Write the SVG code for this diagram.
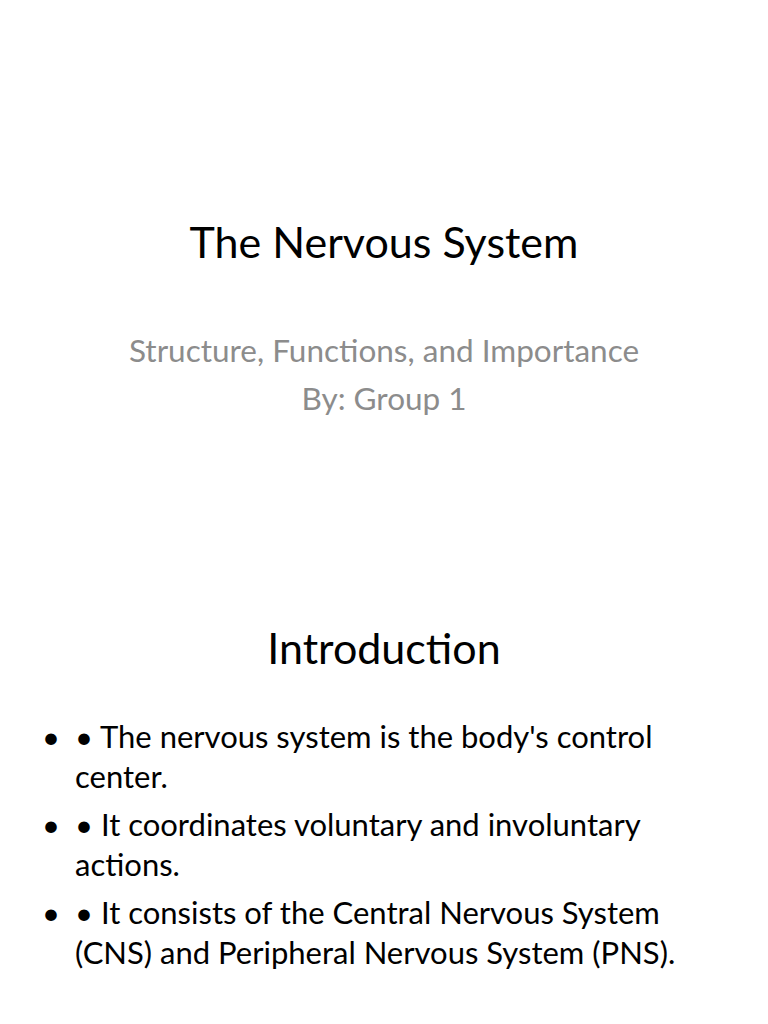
<svg xmlns="http://www.w3.org/2000/svg" width="768" height="1024" viewBox="0 0 768 1024">
<style>
text{font-family:Lato,"Open Sans","DejaVu Sans",sans-serif}
.t{font-size:43px;fill:#000;text-anchor:middle}
.s{font-size:31.5px;fill:#8c8c8c;text-anchor:middle}
.b{font-size:31px;fill:#000}
</style>
<rect width="768" height="1024" fill="#fff"/>
<text class="t" x="384" y="258">The Nervous System</text>
<text class="s" x="384" y="362">Structure, Functions, and Importance</text>
<text class="s" x="384" y="410">By: Group 1</text>
<text class="t" x="384" y="664">Introduction</text>
<g class="b">
<text class="b" x="42" y="748">•</text>
<text class="b" x="75" y="748">• The nervous system is the body's control</text>
<text class="b" x="75" y="788">center.</text>
<text class="b" x="42" y="836">•</text>
<text class="b" x="75" y="836">• It coordinates voluntary and involuntary</text>
<text class="b" x="75" y="876">actions.</text>
<text class="b" x="42" y="924">•</text>
<text class="b" x="75" y="924">• It consists of the Central Nervous System</text>
<text class="b" x="75" y="964">(CNS) and Peripheral Nervous System (PNS).</text>
</g>
</svg>
